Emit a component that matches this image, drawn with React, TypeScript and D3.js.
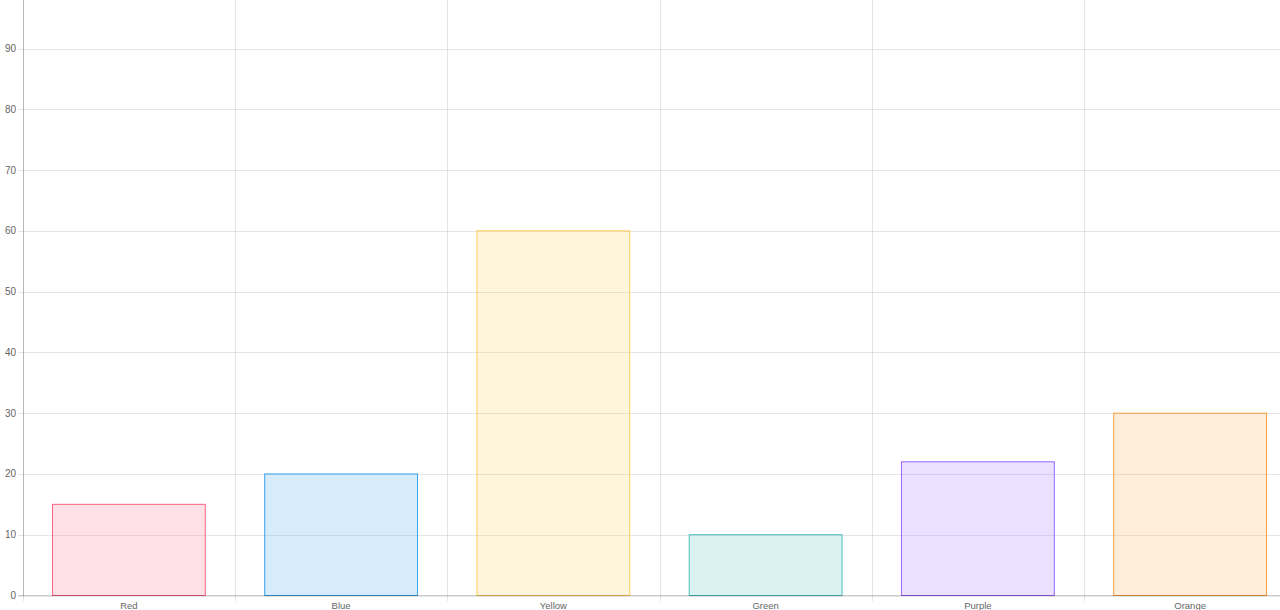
import React from "react";
import * as d3 from "d3";

const categories = ["Red", "Blue", "Yellow", "Green", "Purple", "Orange"];
const values = [15, 20, 60, 10, 22, 30];
const fills = [
  "rgba(255, 99, 132, 0.2)",
  "rgba(54, 162, 235, 0.2)",
  "rgba(255, 206, 86, 0.2)",
  "rgba(75, 192, 192, 0.2)",
  "rgba(153, 102, 255, 0.2)",
  "rgba(255, 159, 64, 0.2)",
];
const strokes = [
  "rgba(255, 99, 132, 1)",
  "rgba(54, 162, 235, 1)",
  "rgba(255, 206, 86, 1)",
  "rgba(75, 192, 192, 1)",
  "rgba(153, 102, 255, 1)",
  "rgba(255, 159, 64, 1)",
];
const gridTicks = [0, 10, 20, 30, 40, 50, 60, 70, 80, 90, 100];
const yTickLabels = [0, 10, 20, 30, 40, 50, 60, 70, 80, 90];

const W = 1280;
const H = 610;

export default function App() {
  const y = d3.scaleLinear().domain([0, 90]).range([595.5, 48.5]);
  const x = d3
    .scaleBand<string>()
    .domain(categories)
    .range([22.75, 22.75 + 6 * 212.25])
    .paddingInner(0)
    .paddingOuter(0);
  const bw = x.bandwidth();
  const barW = bw * 0.72;
  const top = y(100);
  const font = "'Liberation Sans', Arial, Helvetica, sans-serif";
  const gridColor = "rgba(0,0,0,0.1)";
  const boundaries = d3.range(categories.length + 1).map((i) => 22.75 + i * bw);

  return (
    <svg
      width={W}
      height={H}
      style={{ position: "absolute", left: 0, top: 0, display: "block" }}
      fontFamily={font}
    >
      <rect width={W} height={H} fill="#fff" />
      {gridTicks.map((t) => (
        <line
          key={"h" + t}
          x1={18}
          x2={1300}
          y1={Math.round(y(t)) + 0.5}
          y2={Math.round(y(t)) + 0.5}
          stroke={gridColor}
          strokeWidth={1}
        />
      ))}
      {boundaries.map((b, i) => (
        <line
          key={"v" + i}
          x1={Math.round(b) + 0.5}
          x2={Math.round(b) + 0.5}
          y1={top}
          y2={601}
          stroke={gridColor}
          strokeWidth={1}
        />
      ))}
      {categories.map((c, i) => {
        const cx = (x(c) as number) + bw / 2;
        const y0 = y(0);
        const y1 = y(values[i]);
        return (
          <rect
            key={c}
            x={cx - barW / 2}
            y={y1}
            width={barW}
            height={y0 - y1}
            fill={fills[i]}
            stroke={strokes[i]}
            strokeWidth={1}
          />
        );
      })}
      <line x1={23.5} x2={23.5} y1={top} y2={596} stroke="rgba(0,0,0,0.2)" />
      <line x1={18} x2={1300} y1={595.5} y2={595.5} stroke="rgba(0,0,0,0.2)" />
      {yTickLabels.map((t) => (
        <text
          key={"yl" + t}
          x={16}
          y={y(t)}
          dy="0.35em"
          textAnchor="end"
          fontSize={10}
          fill="#666"
        >
          {t}
        </text>
      ))}
      {categories.map((c) => (
        <text
          key={"xl" + c}
          x={(x(c) as number) + bw / 2}
          y={608.5}
          textAnchor="middle"
          fontSize={9.5}
          fill="#666"
        >
          {c}
        </text>
      ))}
    </svg>
  );
}
